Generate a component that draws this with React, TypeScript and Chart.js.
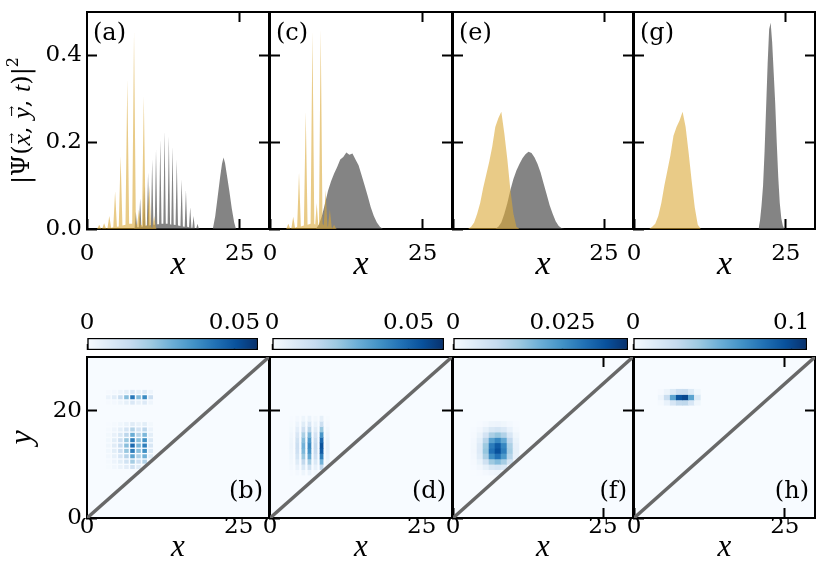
import React, { useEffect, useRef } from 'react';
import { Chart, registerables } from 'chart.js';

Chart.register(...registerables);

const SERIF = "'DejaVu Serif', 'Liberation Serif', serif";
const ITALIC = "'Liberation Serif', 'DejaVu Serif', serif";

// ================= DATA =================
// Top row: |Psi|^2 marginals, x (yellow) and y (gray)
const TOP_X_TICKS = [0, 25];
const TOP_X_TOP_TICKS = [25];
const TOP_Y_TICKS = [0, 0.2, 0.4];
const TOP_Y_RIGHT_TICKS = [0.2, 0.4];
const TOP_Y_TICK_LABELS = ['0.0', '0.2', '0.4'];
const TOP_X_TICK_LABELS = [['0', '25'], ['0', '25'], ['', '25'], ['0', '25']];
const TOP_PANEL_LABELS = ['(a)', '(c)', '(e)', '(g)'];
// y-axis title pieces: [text, style]  (n = upright, i = italic, v = italic with vector arrow, s = superscript)
const Y_TITLE_PARTS: [string, string][] = [
  ['|\u03A8(', 'n'], ['x', 'v'], [', ', 'n'], ['y', 'v'], [', ', 'n'], ['t', 'i'], [')|', 'n'], ['2', 's'],
];

// (a)
const A_X_POS = [1.6, 1.7, 2.0, 2.3, 2.5, 2.8, 3.1, 3.35, 3.65, 3.95, 4.3, 4.6, 4.9, 5.2, 5.5, 5.8, 6.3, 6.6, 6.9, 7.4, 7.7, 8.0, 8.2, 8.5, 8.8, 9.0, 9.3, 9.6, 9.9, 10.2, 10.5, 10.7, 11.0, 11.3, 11.5];
const A_X_VAL = [0, 0.001, 0.01, 0.001, 0.001, 0.013, 0.002, 0.002, 0.03, 0.003, 0.004, 0.087, 0.005, 0.006, 0.168, 0.008, 0.01, 0.345, 0.012, 0.012, 0.455, 0.012, 0.008, 0.045, 0.008, 0.01, 0.306, 0.01, 0.006, 0.1, 0.005, 0.002, 0.03, 0.001, 0];
const A_Y_POS = [7.6, 7.8, 8.0, 8.2, 8.5, 8.7, 8.9, 9.15, 9.35, 9.55, 9.8, 10.0, 10.2, 10.47, 10.67, 10.87, 11.1, 11.3, 11.5, 11.8, 12.0, 12.2, 12.5, 12.7, 12.9, 13.2, 13.4, 13.6, 13.8, 14.0, 14.2, 14.5, 14.7, 14.9, 15.3, 15.5, 15.7, 16.0, 16.2, 16.4, 16.7, 16.9, 17.1, 17.25, 17.45, 17.65, 17.9, 18.1, 18.3, 18.5, 20.6, 21.0, 21.4, 21.8, 22.1, 22.35, 22.6, 22.9, 23.3, 23.7, 24.1, 24.4];
const A_Y_VAL = [0, 0.003, 0.04, 0.004, 0.004, 0.07, 0.005, 0.006, 0.1, 0.007, 0.008, 0.13, 0.008, 0.009, 0.16, 0.01, 0.01, 0.183, 0.011, 0.011, 0.206, 0.012, 0.012, 0.225, 0.012, 0.012, 0.214, 0.011, 0.01, 0.19, 0.01, 0.009, 0.16, 0.008, 0.007, 0.114, 0.006, 0.005, 0.09, 0.005, 0.004, 0.05, 0.003, 0.003, 0.03, 0.002, 0.002, 0.012, 0.001, 0, 0, 0.03, 0.075, 0.12, 0.15, 0.165, 0.152, 0.125, 0.088, 0.048, 0.015, 0];
// (c)
const C_X_POS = [2.6, 2.7, 3.0, 3.3, 3.5, 3.8, 4.1, 4.45, 4.75, 5.05, 5.55, 5.85, 6.15, 6.65, 6.95, 7.25, 7.4, 7.65, 7.9, 8.02, 8.3, 8.6, 8.8, 9.1, 9.4, 9.5, 9.8, 10.1, 10.2, 10.5, 10.8, 11.0];
const C_X_VAL = [0, 0.001, 0.012, 0.001, 0.002, 0.028, 0.003, 0.005, 0.13, 0.006, 0.008, 0.27, 0.01, 0.012, 0.455, 0.012, 0.01, 0.06, 0.01, 0.012, 0.46, 0.012, 0.008, 0.09, 0.007, 0.005, 0.045, 0.004, 0.002, 0.01, 0.001, 0];
const C_Y_POS = [7.5, 8, 8.5, 9, 9.5, 10, 10.5, 11, 11.5, 12, 12.5, 13, 13.5, 14, 14.5, 15, 15.5, 16, 16.5, 17, 17.5, 18, 18.5];
const C_Y_VAL = [0, 0.01, 0.03, 0.058, 0.088, 0.11, 0.128, 0.143, 0.16, 0.166, 0.176, 0.171, 0.174, 0.16, 0.147, 0.124, 0.1, 0.076, 0.05, 0.03, 0.015, 0.005, 0];
// (e)
const E_X_POS = [2.5, 3, 3.5, 4, 4.5, 5, 5.5, 6, 6.5, 7, 7.5, 8, 8.5, 9, 9.5, 10, 10.5, 11];
const E_X_VAL = [0, 0.005, 0.015, 0.035, 0.06, 0.095, 0.125, 0.155, 0.19, 0.235, 0.255, 0.27, 0.22, 0.16, 0.09, 0.035, 0.005, 0];
const E_Y_POS = [7, 7.5, 8, 8.5, 9, 9.5, 10, 10.5, 11, 11.5, 12, 12.5, 13, 13.5, 14, 14.5, 15, 15.5, 16, 16.5, 17, 17.5, 18, 18.5];
const E_Y_VAL = [0, 0.005, 0.015, 0.035, 0.06, 0.09, 0.115, 0.135, 0.15, 0.163, 0.172, 0.178, 0.175, 0.165, 0.15, 0.13, 0.105, 0.08, 0.055, 0.035, 0.018, 0.007, 0.002, 0];
// (g)
const G_X_POS = [2.5, 3, 3.5, 4, 4.5, 5, 5.5, 6, 6.5, 7, 7.5, 8, 8.5, 9, 9.5, 10, 10.5, 11];
const G_X_VAL = [0, 0.005, 0.012, 0.03, 0.06, 0.1, 0.135, 0.17, 0.215, 0.235, 0.25, 0.27, 0.235, 0.175, 0.11, 0.05, 0.01, 0];
const G_Y_POS = [20.5, 20.75, 21, 21.25, 21.5, 21.75, 22, 22.25, 22.5, 22.75, 23, 23.25, 23.5, 23.75, 24, 24.25, 24.5, 24.75];
const G_Y_VAL = [0, 0.02, 0.055, 0.1, 0.18, 0.28, 0.38, 0.46, 0.475, 0.43, 0.36, 0.29, 0.2, 0.12, 0.06, 0.025, 0.008, 0];

// Bottom row: joint density on the lattice (cell centres start at ORIGIN, step 1, rows bottom-up)
const HEAT_X_TICKS = [0, 25];
const HEAT_Y_TICKS = [0, 20];
const HEAT_Y_RIGHT_TICKS = [20];
const HEAT_X_LABELS = ['0', '25'];
const HEAT_Y_LABELS = ['0', '20'];
const HEAT_PANEL_LABELS = ['(b)', '(d)', '(f)', '(h)'];
const DIAG_X = [0, 30];
const DIAG_Y = [0, 30];

const HEAT_B_ORIGIN = [3.5, 9.5];
const HEAT_B = [
  [0.0006, 0.0017, 0.0034, 0.0062, 0.0113, 0.0068, 0, 0],
  [0.001, 0.003, 0.0061, 0.0111, 0.0203, 0.0122, 0.0182, 0],
  [0.0016, 0.0047, 0.0095, 0.0173, 0.0315, 0.0189, 0.0284, 0.0063],
  [0.002, 0.0061, 0.0122, 0.0223, 0.0405, 0.0243, 0.0365, 0.0081],
  [0.0023, 0.0068, 0.0135, 0.0248, 0.045, 0.027, 0.0405, 0.009],
  [0.002, 0.0061, 0.0122, 0.0223, 0.0405, 0.0243, 0.0365, 0.0081],
  [0.0015, 0.0044, 0.0088, 0.0161, 0.0293, 0.0176, 0.0263, 0.0059],
  [0.0009, 0.0027, 0.0054, 0.0099, 0.018, 0.0108, 0.0162, 0.0036],
  [0.0003, 0.001, 0.002, 0.0037, 0.0068, 0.0041, 0.0061, 0.0014],
  [0, 0, 0, 0, 0, 0, 0, 0],
  [0, 0, 0, 0, 0, 0, 0, 0],
  [0, 0, 0, 0, 0, 0, 0, 0],
  [0.0007, 0.0013, 0.0025, 0.005, 0.0084, 0.005, 0.0076, 0.0025],
  [0.0034, 0.0063, 0.0126, 0.0252, 0.042, 0.0252, 0.0378, 0.0126],
  [0.0007, 0.0013, 0.0025, 0.005, 0.0084, 0.005, 0.0076, 0.0025],
];
const HEAT_D_ORIGIN = [3.5, 8.5];
const HEAT_D = [
  [0.0003, 0.0014, 0.003, 0.0041, 0.0017, 0, 0],
  [0.0008, 0.0041, 0.0091, 0.0124, 0.005, 0.0165, 0],
  [0.0015, 0.0076, 0.0166, 0.0227, 0.0091, 0.0303, 0.003],
  [0.0022, 0.011, 0.0242, 0.033, 0.0132, 0.044, 0.0044],
  [0.0026, 0.0131, 0.0287, 0.0392, 0.0157, 0.0523, 0.0052],
  [0.0028, 0.0138, 0.0303, 0.0413, 0.0165, 0.055, 0.0055],
  [0.0025, 0.0124, 0.0272, 0.0371, 0.0149, 0.0495, 0.005],
  [0.0019, 0.0096, 0.0212, 0.0289, 0.0116, 0.0385, 0.0039],
  [0.0012, 0.0062, 0.0136, 0.0186, 0.0074, 0.0248, 0.0025],
  [0.0007, 0.0034, 0.0076, 0.0103, 0.0041, 0.0138, 0.0014],
  [0.0003, 0.0014, 0.003, 0.0041, 0.0017, 0.0055, 0.0006],
];
const HEAT_F_ORIGIN = [3.5, 8.5];
const HEAT_F = [
  [0.0001, 0.0003, 0.0008, 0.0015, 0.0018, 0, 0, 0],
  [0.0002, 0.0011, 0.0032, 0.006, 0.007, 0.0056, 0, 0],
  [0.0005, 0.0026, 0.0079, 0.0149, 0.0175, 0.014, 0.007, 0],
  [0.0009, 0.0045, 0.0134, 0.0253, 0.0298, 0.0238, 0.0119, 0.003],
  [0.0011, 0.0053, 0.0158, 0.0298, 0.035, 0.028, 0.014, 0.0035],
  [0.001, 0.005, 0.015, 0.0283, 0.0333, 0.0266, 0.0133, 0.0033],
  [0.0008, 0.0039, 0.0118, 0.0223, 0.0263, 0.021, 0.0105, 0.0026],
  [0.0005, 0.0024, 0.0071, 0.0134, 0.0158, 0.0126, 0.0063, 0.0016],
  [0.0002, 0.0011, 0.0032, 0.006, 0.007, 0.0056, 0.0028, 0.0007],
  [0.0001, 0.0003, 0.0009, 0.0018, 0.0021, 0.0017, 0.0008, 0.0002],
];
const HEAT_H_ORIGIN = [4.5, 21.5];
const HEAT_H = [
  [0.0015, 0.0075, 0.018, 0.0285, 0.03, 0.018, 0.0045],
  [0.005, 0.025, 0.06, 0.095, 0.1, 0.06, 0.015],
  [0.0013, 0.0063, 0.015, 0.0238, 0.025, 0.015, 0.0038],
];

// Colorbars
const CB_MAX = [0.058, 0.063, 0.04, 0.11];
const CB_TICK = [0.05, 0.05, 0.025, 0.1];
const CB_TICK_LABELS = [['0', '0.05'], ['0', '0.05'], ['0', '0.025'], ['0', '0.1']];

// ================= STYLE / LAYOUT =================
const PANEL_LEFT = [87, 270, 453, 634];
const PANEL_W = [182, 182, 180, 181];
const CB_LEFT = [87, 272, 453, 633];
const CB_W = [171, 172, 175, 174];
const YELLOW = 'rgba(218,168,55,0.6)';
const GRAY = 'rgba(80,80,80,0.7)';
const DIAG_COLOR = '#686868';
const BLUES = [
  [247, 251, 255], [222, 235, 247], [198, 219, 239], [158, 202, 225], [107, 174, 214],
  [66, 146, 198], [33, 113, 181], [8, 81, 156], [8, 48, 107],
];
const HEAT_CELL_W = [0.75, 0.62, 1.1, 1.1];
const HEAT_CELL_H = [0.75, 1.1, 1.1, 1.1];
const HEAT_SHOW_X_MARKS = [false, false, true, true];

function blues(t: number) {
  const tt = Math.max(0, Math.min(1, t));
  const n = BLUES.length - 1;
  const f = tt * n;
  const i = Math.min(n - 1, Math.floor(f));
  const u = f - i;
  const a = BLUES[i], b = BLUES[i + 1];
  const c = a.map((v, k) => Math.round(v + (b[k] - v) * u));
  return `rgb(${c[0]},${c[1]},${c[2]})`;
}
const blueCss = (c: number[]) => `rgb(${c[0]},${c[1]},${c[2]})`;

const pts = (xs: number[], ys: number[]) => xs.map((x, i) => ({ x, y: ys[i] }));
function gridPts(origin: number[], rows: number[][]) {
  const out: any[] = [];
  rows.forEach((row, r) =>
    row.forEach((v, c) => {
      if (v > 0) out.push({ x: origin[0] + c, y: origin[1] + r, v });
    })
  );
  return out;
}

const TOP_SERIES = [
  { xPos: A_X_POS, xVal: A_X_VAL, yPos: A_Y_POS, yVal: A_Y_VAL },
  { xPos: C_X_POS, xVal: C_X_VAL, yPos: C_Y_POS, yVal: C_Y_VAL },
  { xPos: E_X_POS, xVal: E_X_VAL, yPos: E_Y_POS, yVal: E_Y_VAL },
  { xPos: G_X_POS, xVal: G_X_VAL, yPos: G_Y_POS, yVal: G_Y_VAL },
];
const HEAT_SERIES = [
  { origin: HEAT_B_ORIGIN, rows: HEAT_B },
  { origin: HEAT_D_ORIGIN, rows: HEAT_D },
  { origin: HEAT_F_ORIGIN, rows: HEAT_F },
  { origin: HEAT_H_ORIGIN, rows: HEAT_H },
];

function axisScale(o: any) {
  const vertical = o.position === 'left' || o.position === 'right';
  return {
    type: 'linear',
    axis: vertical ? 'y' : 'x',
    position: o.position,
    min: o.min,
    max: o.max,
    z: 1,
    afterBuildTicks: (s: any) => {
      s.ticks = o.ticks.map((v: number) => ({ value: v }));
    },
    afterFit: (s: any) => {
      if (vertical) s.width = o.size;
      else s.height = o.size;
      s.paddingTop = 0;
      s.paddingBottom = 0;
      s.paddingLeft = 0;
      s.paddingRight = 0;
    },
    ticks: {
      display: !!o.labels,
      autoSkip: false,
      maxRotation: 0,
      minRotation: 0,
      padding: o.padding ?? 0,
      color: '#000',
      font: { family: SERIF, size: o.fontSize ?? 23 },
      callback: (_v: any, i: number) => (o.labels ? o.labels[i] : ''),
    },
    grid: {
      display: true,
      drawOnChartArea: false,
      drawTicks: o.tickLen !== 0,
      tickLength: o.tickLen ?? -10,
      tickWidth: o.tickWidth ?? 2,
      tickColor: o.tickColor ?? '#000',
    },
    border: { display: o.border !== false, color: '#000', width: 2 },
    title: o.title
      ? {
          display: true,
          text: o.title.text,
          color: '#000',
          font: { family: o.title.family ?? SERIF, size: o.title.size, style: o.title.style ?? 'normal' },
          padding: o.title.padding,
        }
      : { display: false },
  };
}

const labelPlugin = {
  id: 'panelLabel',
  afterDraw(chart: any, _a: any, opts: any) {
    if (!opts || !opts.text) return;
    const { ctx, chartArea: a } = chart;
    ctx.save();
    ctx.font = `24px ${SERIF}`;
    ctx.fillStyle = '#000';
    ctx.textBaseline = 'middle';
    if (opts.corner === 'tl') {
      ctx.textAlign = 'left';
      ctx.fillText(opts.text, a.left + 6, a.top + 22);
    } else {
      ctx.textAlign = 'right';
      ctx.fillText(opts.text, a.right - 6, a.bottom - 26);
    }
    ctx.restore();
  },
};

// Rotated y-axis title with mixed upright/italic pieces and vector arrows
const yTitlePlugin = {
  id: 'yTitle',
  afterDraw(chart: any, _a: any, opts: any) {
    if (!opts || !opts.parts) return;
    const { ctx, chartArea: a } = chart;
    const size = opts.size;
    const fontOf = (st: string) =>
      st === 's'
        ? `${Math.round(size * 0.65)}px ${SERIF}`
        : st === 'n'
        ? `${size}px ${SERIF}`
        : `italic ${Math.round(size * 1.1)}px ${ITALIC}`;
    ctx.save();
    ctx.fillStyle = '#000';
    ctx.textBaseline = 'middle';
    ctx.textAlign = 'left';
    let total = 0;
    const widths = opts.parts.map(([t, st]: [string, string]) => {
      ctx.font = fontOf(st);
      const w = ctx.measureText(t).width;
      total += w;
      return w;
    });
    ctx.translate(opts.x, (a.top + a.bottom) / 2);
    ctx.rotate(-Math.PI / 2);
    let x = -total / 2;
    opts.parts.forEach(([t, st]: [string, string], k: number) => {
      ctx.font = fontOf(st);
      const dy = st === 's' ? -size * 0.38 : 0;
      ctx.fillText(t, x, dy);
      if (st === 'v') {
        ctx.font = `${Math.round(size * 0.55)}px ${SERIF}`;
        ctx.textAlign = 'center';
        ctx.fillText('\u2192', x + widths[k] / 2 + 1.5, -size * 0.42);
        ctx.textAlign = 'left';
      }
      x += widths[k];
    });
    ctx.restore();
  },
};

const bgPlugin = {
  id: 'areaBg',
  beforeDraw(chart: any, _a: any, opts: any) {
    if (!opts || !opts.color) return;
    const { ctx, chartArea: a } = chart;
    ctx.save();
    ctx.fillStyle = opts.color;
    ctx.fillRect(a.left, a.top, a.right - a.left, a.bottom - a.top);
    ctx.restore();
  },
};

const baseOptions = {
  animation: false,
  responsive: false,
  devicePixelRatio: 1,
  events: [],
};

function topConfig(i: number) {
  const s = TOP_SERIES[i];
  return {
    type: 'line',
    data: {
      datasets: [
        { label: 'x', data: pts(s.xPos, s.xVal), fill: 'origin', backgroundColor: YELLOW, borderColor: 'rgba(0,0,0,0)', borderWidth: 0, pointRadius: 0, tension: 0, order: 0 },
        { label: 'y', data: pts(s.yPos, s.yVal), fill: 'origin', backgroundColor: GRAY, borderColor: 'rgba(0,0,0,0)', borderWidth: 0, pointRadius: 0, tension: 0, order: 1 },
      ],
    },
    options: {
      ...baseOptions,
      layout: { padding: 0, autoPadding: false },
      plugins: {
        legend: { display: false },
        tooltip: { enabled: false },
        panelLabel: { text: TOP_PANEL_LABELS[i], corner: 'tl' },
        yTitle: i === 0 ? { parts: Y_TITLE_PARTS, size: 24, x: 23 } : {},
      },
      scales: {
        x: axisScale({ position: 'bottom', min: 0, max: 29.8, ticks: TOP_X_TICKS, labels: TOP_X_TICK_LABELS[i], size: 61, padding: 21, title: { text: 'x', size: 34, style: 'italic', family: ITALIC, padding: { top: 0, bottom: 5 } } }),
        xTop: axisScale({ position: 'top', min: 0, max: 29.8, ticks: TOP_X_TOP_TICKS, size: 12 }),
        y: axisScale({ position: 'left', min: 0, max: 0.5, ticks: TOP_Y_TICKS, labels: i === 0 ? TOP_Y_TICK_LABELS : null, size: 87, padding: 15 }),
        yRight: axisScale({ position: 'right', min: 0, max: 0.5, ticks: TOP_Y_RIGHT_TICKS, size: 10 }),
      },
    },
    plugins: [labelPlugin, yTitlePlugin],
  };
}

function heatConfig(i: number) {
  const h = HEAT_SERIES[i];
  const vmax = CB_MAX[i];
  return {
    type: 'scatter',
    data: {
      datasets: [
        {
          type: 'line',
          label: 'diag',
          data: pts(DIAG_X, DIAG_Y),
          borderColor: DIAG_COLOR,
          borderWidth: 3.5,
          pointRadius: 0,
          fill: false,
          order: 0,
        },
        {
          type: 'scatter',
          label: 'density',
          data: gridPts(h.origin, h.rows),
          pointStyle: 'line',
          pointRadius: (c: any) => {
            const sx = c.chart.scales.x;
            return ((sx.getPixelForValue(1) - sx.getPixelForValue(0)) * HEAT_CELL_W[i]) / 2;
          },
          pointBorderWidth: (c: any) => {
            const sy = c.chart.scales.y;
            return (sy.getPixelForValue(0) - sy.getPixelForValue(1)) * HEAT_CELL_H[i];
          },
          pointBorderColor: (c: any) => blues(c.raw ? c.raw.v / vmax : 0),
          pointBackgroundColor: 'rgba(0,0,0,0)',
          order: 1,
        },
      ],
    },
    options: {
      ...baseOptions,
      layout: { padding: 0, autoPadding: false },
      plugins: {
        legend: { display: false },
        tooltip: { enabled: false },
        panelLabel: { text: HEAT_PANEL_LABELS[i], corner: 'br' },
        areaBg: { color: blueCss(BLUES[0]) },
      },
      scales: {
        x: axisScale({ position: 'bottom', min: 0, max: 30, ticks: HEAT_X_TICKS, labels: HEAT_X_LABELS, size: 51, padding: 5, tickColor: HEAT_SHOW_X_MARKS[i] ? '#000' : 'rgba(0,0,0,0)', title: { text: 'x', size: 31, style: 'italic', family: ITALIC, padding: { top: 0, bottom: 3 } } }),
        xTop: axisScale({ position: 'top', min: 0, max: 30, ticks: HEAT_SHOW_X_MARKS[i] ? [25] : [], size: 57 }),
        y: axisScale({ position: 'left', min: 0, max: 30, ticks: HEAT_Y_TICKS, labels: i === 0 ? HEAT_Y_LABELS : null, size: 87, padding: 15, title: i === 0 ? { text: 'y', size: 32, style: 'italic', family: ITALIC, padding: { top: 3, bottom: 0 } } : null }),
        yRight: axisScale({ position: 'right', min: 0, max: 30, ticks: HEAT_Y_RIGHT_TICKS, size: 10 }),
      },
    },
    plugins: [labelPlugin, bgPlugin],
  };
}

function cbConfig(i: number) {
  return {
    type: 'bar',
    data: {
      labels: ['colorbar'],
      datasets: [
        {
          data: [[0, CB_MAX[i]]],
          backgroundColor: (c: any) => {
            const a = c.chart.chartArea;
            if (!a) return blueCss(BLUES[0]);
            const g = c.chart.ctx.createLinearGradient(a.left, 0, a.right, 0);
            BLUES.forEach((col, k) => g.addColorStop(k / (BLUES.length - 1), blueCss(col)));
            return g;
          },
          borderColor: '#000',
          borderWidth: 1.5,
          borderSkipped: false,
          barPercentage: 1,
          categoryPercentage: 1,
        },
      ],
    },
    options: {
      ...baseOptions,
      indexAxis: 'y',
      layout: { padding: { left: 20, right: 20, top: 0, bottom: 0 }, autoPadding: false },
      plugins: { legend: { display: false }, tooltip: { enabled: false } },
      scales: {
        x: axisScale({ position: 'bottom', min: 0, max: CB_MAX[i], ticks: [0, CB_TICK[i]], size: 10, tickLen: -6, tickWidth: 1.5, border: false }),
        xTop: axisScale({ position: 'top', min: 0, max: CB_MAX[i], ticks: [0, CB_TICK[i]], labels: CB_TICK_LABELS[i], size: 38, padding: 1, tickLen: 0, border: false }),
        y: { type: 'category', display: false },
      },
    },
  };
}

function ChartCanvas(props: { left: number; top: number; width: number; height: number; build: () => any }) {
  const ref = useRef<HTMLCanvasElement | null>(null);
  useEffect(() => {
    if (!ref.current) return;
    const chart = new Chart(ref.current, props.build());
    return () => chart.destroy();
  }, []);
  return (
    <canvas
      ref={ref}
      width={props.width}
      height={props.height}
      style={{ position: 'absolute', left: props.left, top: props.top, width: props.width, height: props.height }}
    />
  );
}

export default function App() {
  return (
    <div style={{ position: 'absolute', left: 0, top: 0, width: 824, height: 569, background: '#fff', overflow: 'hidden' }}>
      {[0, 1, 2, 3].map((i) => (
        <ChartCanvas key={'top' + i} left={PANEL_LEFT[i] - 87} top={0} width={87 + PANEL_W[i] + 10} height={290} build={() => topConfig(i)} />
      ))}
      {[0, 1, 2, 3].map((i) => (
        <ChartCanvas key={'cb' + i} left={CB_LEFT[i] - 20} top={300} width={CB_W[i] + 40} height={60} build={() => cbConfig(i)} />
      ))}
      {[0, 1, 2, 3].map((i) => (
        <ChartCanvas key={'heat' + i} left={PANEL_LEFT[i] - 87} top={300} width={87 + PANEL_W[i] + 10} height={269} build={() => heatConfig(i)} />
      ))}
    </div>
  );
}
